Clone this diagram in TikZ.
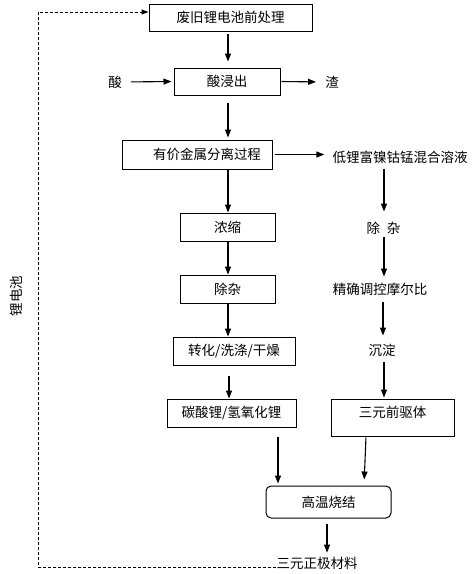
\documentclass[tikz,border=0pt]{standalone}
\usepackage{fontspec}
\setmainfont{Noto Sans CJK SC}
\usetikzlibrary{arrows.meta}
\begin{document}
\begin{tikzpicture}[x=1pt,y=-1pt,
  every node/.style={font=\fontsize{13.5pt}{15pt}\selectfont, inner sep=0pt},
  box/.style={draw, line width=1pt, minimum height=27pt},
  arr/.style={line width=1.1pt, -{Triangle[length=8pt,width=6pt]}},
  dasharr/.style={line width=1pt, dash pattern=on 3pt off 2pt, -{Triangle[length=7pt,width=5pt]}}]
\useasboundingbox (0,0) rectangle (474,574);
\fill[white] (0,0) rectangle (474,574);
% left column
\node[box, minimum width=163pt] (b1) at (230.5,17.5) {废旧锂电池前处理};
\node[box, minimum width=106pt] (b2) at (227,81.5) {酸浸出};
\node (acid) at (115,82) {酸};
\node (slag) at (332,82) {渣};
\node[box, minimum width=150pt, minimum height=29pt] (b3) at (197,154.5) {\hspace*{20pt}有价金属分离过程};
\node[box, minimum width=95pt, minimum height=28pt] (nong) at (227.5,227) {浓缩};
\node[box, minimum width=95pt, minimum height=28pt] (cz) at (227.5,289) {除杂};
\node[box, minimum width=122pt, minimum height=28pt] (zh) at (234,351) {转化/洗涤/干燥};
\node[box, minimum width=129pt, minimum height=28pt] (tan) at (231.5,413) {碳酸锂/氢氧化锂};
% right column
\node (r1) at (400,157) {低锂富镍钴锰混合溶液};
\node (r2) at (383.5,228) {除\hspace{7pt}杂};
\node (r3) at (380,289) {精确调控摩尔比};
\node (r4) at (382,350) {沉淀};
\node[box, minimum width=123pt, minimum height=37pt] (r5) at (392.5,417.5) {};
\node (r5t) at (392.5,412) {三元前驱体};
% bottom
\node[box, rounded corners=5pt, minimum width=125pt, minimum height=32pt] (gw) at (328.5,502) {高温烧结};
\node (prod) at (317,563) {三元正极材料};
\node[rotate=90] (li) at (16,296) {锂电池};
% column coordinates
\coordinate (cl) at (228,0);
\coordinate (cr) at (384,0);
\coordinate (cg1) at (278,0);
\coordinate (cg2) at (366,0);
\coordinate (cg3) at (327,0);
% arrows left column
\draw[arr, shorten <=2pt, shorten >=6pt] (b1.south -| cl) -- (b2.north -| cl);
\draw[arr, shorten <=7pt, shorten >=2pt] (b2.south -| cl) -- (b3.north -| cl);
\draw[arr] (b3.south -| cl) -- (nong.north -| cl);
\draw[arr] (nong.south -| cl) -- (cz.north -| cl);
\draw[arr] (cz.south -| cl) -- (zh.north -| cl);
\draw[arr, shorten <=10pt] ([xshift=1pt]zh.south -| cl) -- ([xshift=1pt]tan.north -| cl);
\draw[arr, shorten <=9pt, shorten >=2pt] (acid.east) -- (b2.west);
\draw[arr, shorten <=1pt, shorten >=9pt] (b2.east) -- (slag.west);
\draw[arr, shorten <=2pt, shorten >=8pt] (b3.east) -- (b3.east -| r1.west);
% right column arrows
\draw[arr, shorten <=5pt, shorten >=10pt] (r1.south -| cr) -- (r2.north -| cr);
\draw[arr, shorten <=3pt, shorten >=6pt] (r2.south -| cr) -- (r3.north -| cr);
\draw[arr, shorten <=7pt, shorten >=8pt] ([xshift=-1pt]r3.south -| cr) -- ([xshift=-1pt]r4.north -| cr);
\draw[arr, shorten <=6pt, shorten >=1pt] (r4.south -| cr) -- (r5.north -| cr);
% to sintering
\draw[arr, shorten <=9pt, shorten >=2pt] (tan.south -| cg1) -- (gw.north -| cg1);
\draw[arr, shorten <=1pt, shorten >=6pt] (r5.south -| cg2) -- ([xshift=-2pt]gw.north -| cg2);
\draw[arr, shorten <=5pt, shorten >=4pt] (gw.south -| cg3) -- (prod.north -| cg3);
% dashed feedback
\draw[dasharr] ([yshift=-4pt]prod.west) -| (38,12) -- (b1.west |- 0,12);
\end{tikzpicture}
\end{document}
